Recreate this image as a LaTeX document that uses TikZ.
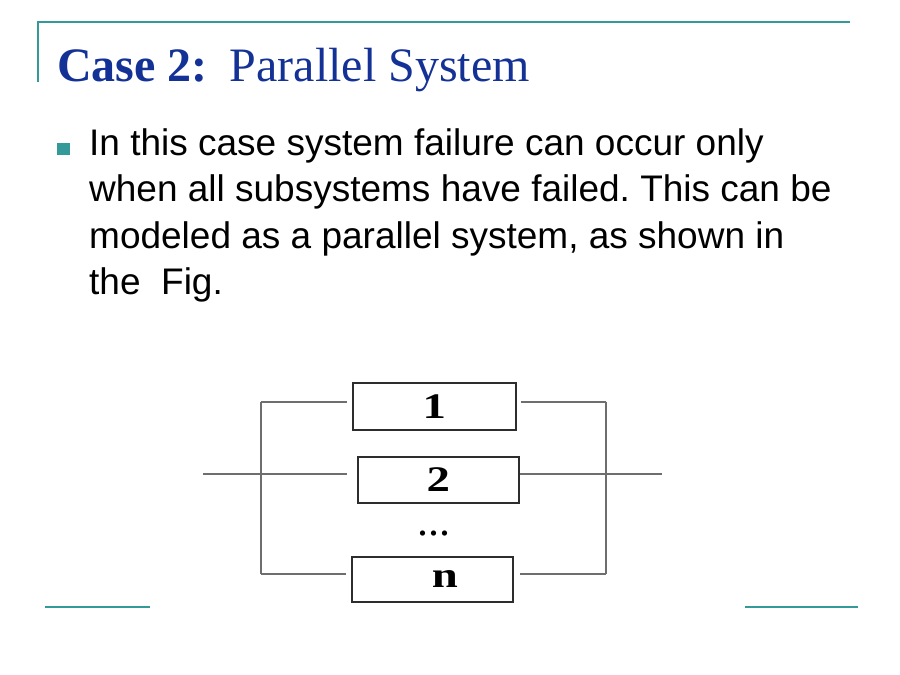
\documentclass[tikz,border=0pt]{standalone}
\usepackage{fontspec}
\usepackage{graphicx}
\setmainfont{Liberation Serif}
\newfontfamily\bodyfont{Liberation Sans}
\definecolor{tealline}{RGB}{51,153,153}
\definecolor{titleblue}{RGB}{20,50,150}
\definecolor{wiregray}{RGB}{110,110,110}
\definecolor{boxgray}{RGB}{45,45,45}
\frenchspacing
\newcommand{\widelabel}[1]{\scalebox{1.3}[1]{#1}}
\begin{document}
\begin{tikzpicture}[x=1pt,y=-1pt,
  deco/.style={draw=tealline,line width=2.5pt},
  wire/.style={draw=wiregray,line width=2.4pt},
  unitbox/.style={draw=boxgray,line width=2.2pt,minimum width=162pt,minimum height=46pt,inner sep=0pt,
    font=\fontsize{36}{36}\selectfont\bfseries},
  bodyline/.style={anchor=base west,inner sep=0pt,font=\bodyfont\fontsize{37}{37}\selectfont}
]
\useasboundingbox (0,0) rectangle (900,675);
% frame decorations
\coordinate (tl) at (38,82);
\coordinate (tc) at (38,22);
\coordinate (tr) at (850,22);
\draw[deco] (tl) -- (tc) -- (tr);
\coordinate (bl1) at (45,607);
\coordinate (bl2) at (150,607);
\coordinate (br1) at (745,607);
\coordinate (br2) at (858,607);
\draw[deco] (bl1) -- (bl2);
\draw[deco] (br1) -- (br2);
% title
\node[anchor=base west,inner sep=0pt,text=titleblue,font=\fontsize{48}{48}\selectfont] (title) at (57,81)
  {\textbf{Case 2:}\hspace{10pt} Parallel System};
% bullet
\node[fill=tealline,minimum size=12.5pt,inner sep=0pt] (bullet) at (63.5,149) {};
\node[bodyline] (l1) at (89,155) {In this case system failure can occur only};
\node[bodyline] (l2) at (89,201.5) {when all subsystems have failed. This can be};
\node[bodyline] (l3) at (89,248) {modeled as a parallel system, as shown in};
\node[bodyline] (l4) at (89,294.5) {the\ \ Fig.};
% diagram
\node[unitbox,minimum width=163pt,minimum height=46.7pt] (b1) at (434.2,406.7) {\widelabel{1}\hspace{6pt}};
\node[unitbox,minimum width=161.3pt,minimum height=46.6pt] (b2) at (438.3,480) {\widelabel{2}\hspace{6pt}};
\node[unitbox,minimum width=161pt,minimum height=44.4pt] (bn) at (432.8,579.5) {\hspace{24pt}\widelabel{n}};
\node[font=\fontsize{44}{44}\selectfont,inner sep=0pt] (dots) at (434,534) {...};
\coordinate (L1) at (260.7,401.7);
\coordinate (Ln) at (260.7,574);
\coordinate (R1) at (605.7,401.7);
\coordinate (Rn) at (605.7,574);
\coordinate (in) at (203,474);
\coordinate (out) at (661.7,474);
\draw[wire] (L1) -- (Ln);
\draw[wire] (R1) -- (Rn);
\draw[wire,shorten >=5pt] (L1) -- (b1.west |- L1);
\draw[wire,shorten <=4pt] (b1.east |- R1) -- (R1);
\draw[wire,shorten >=10pt] (in) -- (b2.west |- in);
\draw[wire] (b2.east |- out) -- (out);
\draw[wire,shorten >=5pt] (Ln) -- (bn.west |- Ln);
\draw[wire,shorten <=6pt] (bn.east |- Rn) -- (Rn);
\end{tikzpicture}
\end{document}
